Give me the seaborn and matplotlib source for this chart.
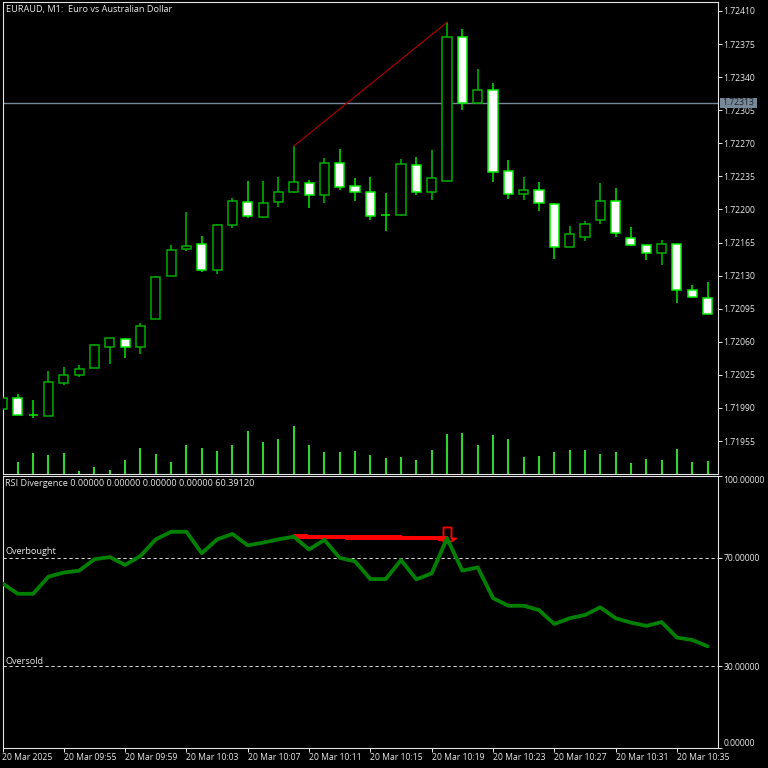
import numpy as np
import pandas as pd
import seaborn as sns
import matplotlib
matplotlib.use("Agg")
import matplotlib.pyplot as plt
from matplotlib.path import Path
from matplotlib.patches import Rectangle

# ---- data: prices expressed as points above 1.72000 -------------------
opens = [-11, 1, -17, -18, 16, 25, 32, 55, 63, 55, 84, 130, 158, 163, 136, 184, 208, 192, 208, 219,
         228, 215, 249, 225, 218, 194, 194, 247, 219, 230, 382, 313, 326, 241, 216, 221, 206, 160,
         171, 189, 209, 170, 162, 154, 163, 115, 106]
closes = [1, -17, -17, 17, 25, 31, 57, 64, 55, 77, 129, 157, 161, 136, 184, 209, 193, 207, 218, 229,
          215, 249, 224, 219, 193, 194, 248, 218, 233, 382, 313, 326, 240, 216, 221, 207, 160, 174,
          185, 209, 175, 162, 154, 163, 115, 107, 89]
highs = [2, 5, -2, 29, 33, 35, 58, 64, 64, 80, 130, 162, 197, 172, 185, 212, 230, 230, 234, 267,
         231, 255, 264, 233, 234, 217, 253, 256, 263, 398, 391, 349, 334, 252, 234, 229, 207, 183,
         188, 228, 223, 181, 162, 168, 164, 120, 123]
lows = [-11, -17, -21, -18, 14, 23, 32, 37, 43, 47, 84, 130, 156, 134, 132, 180, 191, 191, 203, 217,
        202, 207, 221, 209, 189, 177, 193, 215, 210, 230, 305, 313, 229, 211, 210, 198, 148, 160,
        167, 185, 171, 161, 147, 141, 101, 106, 89]
volumes = [0, 12, 21, 19, 21, 3, 7, 4, 14, 26, 20, 12, 29, 26, 23, 29, 43, 32, 35, 48,
           29, 22, 22, 23, 19, 16, 17, 14, 24, 40, 41, 29, 39, 35, 17, 18, 22, 24, 24, 20,
           22, 11, 15, 14, 25, 12, 13]
rsi = [60.5, 56.7, 56.7, 63.0, 64.5, 65.2, 69.4, 70.2, 67.3, 70.6, 76.7, 79.5, 79.5, 71.6, 76.7,
       78.7, 74.5, 75.5, 76.7, 77.7, 73.0, 76.5, 69.9, 68.6, 62.1, 62.1, 69.1, 62.0, 64.2, 77.1,
       65.2, 66.4, 55.1, 52.3, 52.3, 50.7, 45.6, 47.7, 48.9, 51.7, 47.7, 46.1, 44.9, 46.3, 40.6,
       39.7, 37.4]
divergence_bars = [19, 29]
bid_price = 1.72313
price_ticks = [1.72410, 1.72375, 1.72340, 1.72305, 1.72270, 1.72235, 1.72200, 1.72165, 1.72130,
               1.72095, 1.72060, 1.72025, 1.71990, 1.71955]
rsi_ticks = [100, 70, 30, 0]
rsi_levels = [70, 30]
time_ticks = [0, 4, 8, 12, 16, 20, 24, 28, 32, 36, 40, 44]
time_labels = ["20 Mar 2025", "20 Mar 09:55", "20 Mar 09:59", "20 Mar 10:03", "20 Mar 10:07",
               "20 Mar 10:11", "20 Mar 10:15", "20 Mar 10:19", "20 Mar 10:23", "20 Mar 10:27",
               "20 Mar 10:31", "20 Mar 10:35"]

W = H = 768
PX = 72 / 100  # one pixel in points
sns.set_theme(style="dark")
plt.rcParams["font.family"] = ["Open Sans", "DejaVu Sans"]
FS = 6.25
FS_TITLE = 6.55
TXT = "#e8e8e8"
LINE = "#e4e4e4"


def rect(l, t, r, b):
    return [l / W, 1 - b / H, (r - l) / W, (b - t) / H]


fig = plt.figure(figsize=(W / 100, H / 100), dpi=100, facecolor="black")
ax = fig.add_axes(rect(2.5, 2.3, 718, 473.5), facecolor="black")
rx = fig.add_axes(rect(2.5, 476, 718, 748), facecolor="black")
vx = ax.twinx()

df = pd.DataFrame({"bar": np.arange(len(opens)), "o": opens, "c": closes, "h": highs, "l": lows,
                   "vol": volumes, "rsi": rsi})
for col in "ochl":
    df[col] = 1.72 + df[col] * 1e-5

XLIM = (0.0, 46.68)
# ---- price panel -------------------------------------------------------
ax.axhline(bid_price, color="#778899", lw=1.4 * PX, zorder=1)
for row in df.itertuples():
    up = row.c > row.o
    col = "#00b000" if up else "#00f000"
    ax.vlines(row.bar, row.l, row.h, color="#00a800" if up else "#00d000", lw=1.7 * PX, zorder=2)
    ax.bar(row.bar, abs(row.c - row.o), bottom=min(row.o, row.c), width=9.1 / 15.33,
           facecolor="black" if up else "white", edgecolor=col, linewidth=1.5 * PX, zorder=3)
a, b = divergence_bars
ax.plot([a, b], [df.h[a], df.h[b]], color="#a80000", lw=1.2 * PX, zorder=4)

ax.set_xlim(*XLIM)
ax.set_ylim(1.72 - 79.3e-5, 1.72 + 419.2e-5)
ax.yaxis.tick_right()
ax.set_yticks(price_ticks)
ax.set_yticklabels([f"{t:.5f}" for t in price_ticks])
ax.set_xticks([])

vx.vlines(df.bar, 0, df.vol, color="#32d232", lw=2.1 * PX)
vx.set_ylim(0, 471.2)
vx.axis("off")

# ---- RSI panel ---------------------------------------------------------
for lv in rsi_levels:
    rx.axhline(lv, color="#d8d8d8", lw=1 * PX, dashes=(3.2, 2.8), zorder=1)
rx.plot([a, b], [rsi[a], rsi[b]], color="#ff0000", lw=3.6 * PX, zorder=2, solid_capstyle="butt",
        antialiased=False)
arrow = Path([(-4, 11), (4, 11), (4, 0), (8.5, 0), (0, -5), (-8.5, 0), (-4, 0), (-4, 11)], closed=True)
rx.plot([b], [rsi[b]], marker=arrow, ms=22 * PX, mfc="none", mec="#ff0000", mew=1.9 * PX, ls="none", zorder=2)
sns.lineplot(data=df, x="bar", y="rsi", ax=rx, color="#008000", lw=3.8 * PX, zorder=3, errorbar=None)
rx.set_xlim(*XLIM)
rx.set_ylim(0, 100)
rx.yaxis.tick_right()
rx.set_yticks(rsi_ticks)
rx.set_yticklabels([f"{t:.5f}" for t in rsi_ticks])
rx.set_xticks(time_ticks)
rx.set_xticklabels(time_labels, ha="left")
rx.set_xlabel("")
rx.set_ylabel("")
for lab in rx.get_yticklabels():
    if lab.get_text().startswith("100"):
        lab.set_va("top")
    elif lab.get_text().startswith("0."):
        lab.set_va("bottom")

for A in (ax, rx):
    A.grid(False)
    for s in A.spines.values():
        s.set_color(LINE)
        s.set_linewidth(1.1 * PX)
    A.tick_params(axis="y", length=4 * PX, width=1 * PX, color=LINE, labelcolor=TXT,
                  labelsize=FS, pad=1.5 * PX, right=True, left=False)
rx.tick_params(axis="x", length=4 * PX, width=1 * PX, color=LINE, labelcolor=TXT,
               labelsize=FS, pad=1.5 * PX, bottom=True)

# ---- text --------------------------------------------------------------
def px_text(x, y, s, **kw):
    fig.text(x / W, 1 - y / H, s, color=TXT, fontsize=FS_TITLE, va="center", ha="left", **kw)


px_text(6, 9.5, "EURAUD, M1:  Euro vs Australian Dollar")
px_text(5, 484, "RSI Divergence 0.00000 0.00000 0.00000 0.00000 60.39120")
px_text(5, 552, "Overbought")
px_text(5, 661, "Oversold")

# bid price tag
fig.add_artist(Rectangle((720 / W, 1 - 107.5 / H), 37 / W, 9.5 / H, transform=fig.transFigure,
                         facecolor="#778899", edgecolor="none", zorder=9))
fig.text(738.5 / W, 1 - 102.7 / H, f"{bid_price:.5f}", color="#1a2026", fontsize=FS, va="center",
         ha="center", zorder=10)

fig.savefig("out.png", dpi=100, facecolor="black")
